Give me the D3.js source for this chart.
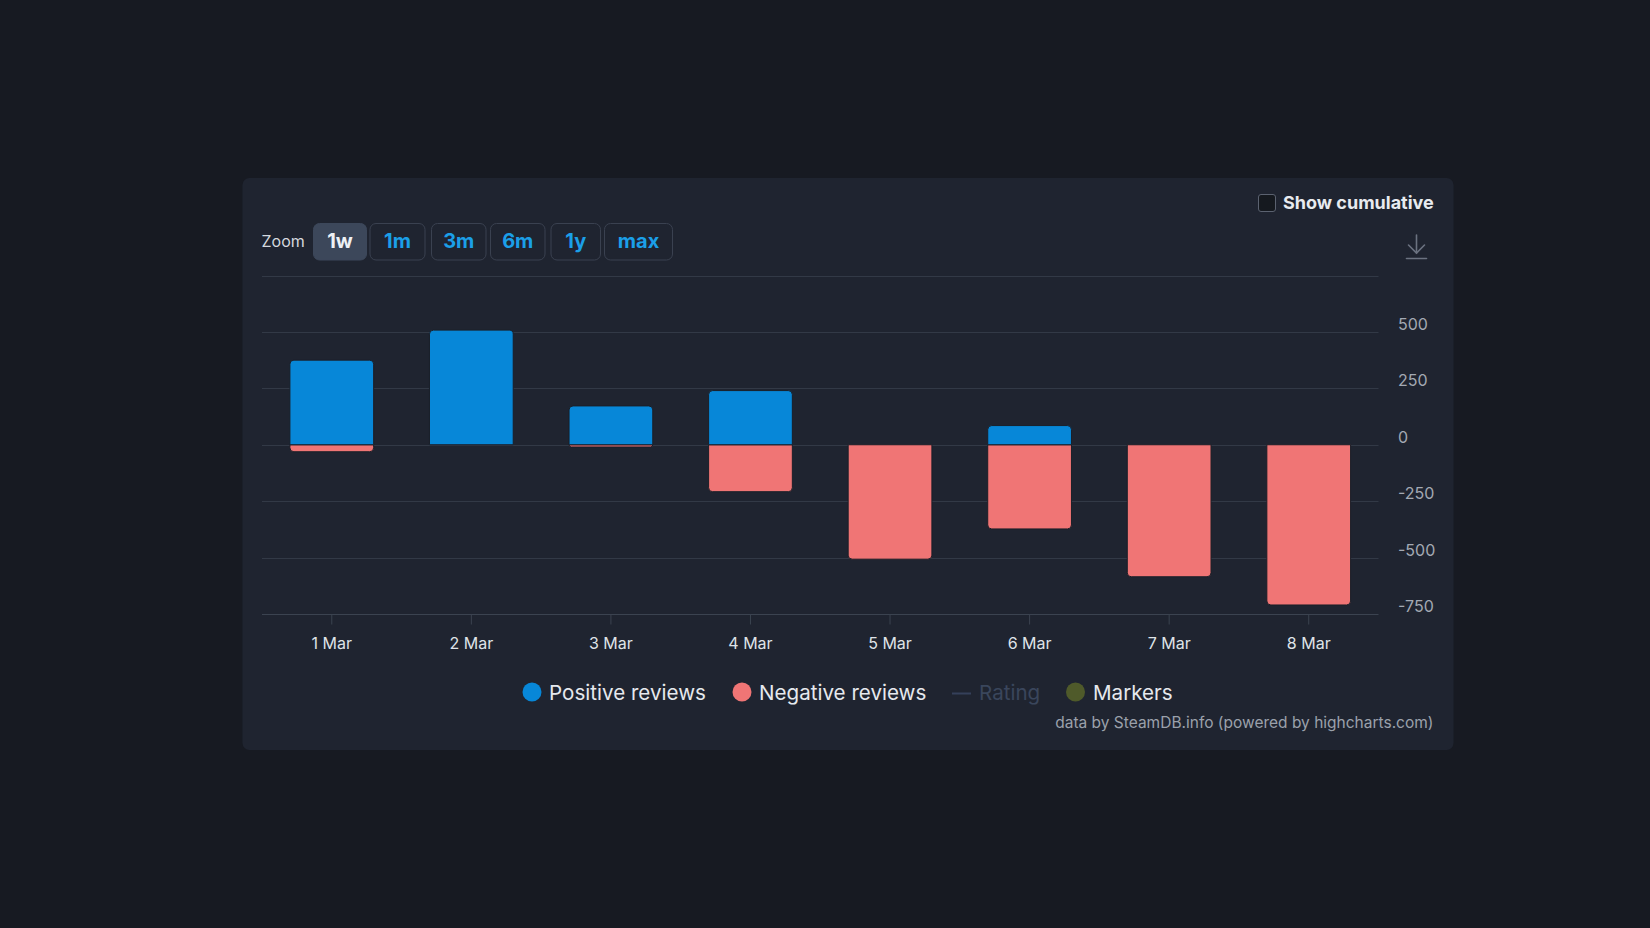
<!DOCTYPE html>
<html>
<head>
<meta charset="utf-8">
<script src="https://cdn.jsdelivr.net/npm/d3@7"></script>
<style>
  html, body { margin: 0; padding: 0; background: #171a22; }
  svg { display: block; font-family: Inter, "Noto Sans", sans-serif; }
</style>
</head>
<body>
<svg id="chart" width="1650" height="928"></svg>
<script>
const categories = ["1 Mar", "2 Mar", "3 Mar", "4 Mar", "5 Mar", "6 Mar", "7 Mar", "8 Mar"];
const positiveReviews = [375, 508, 172, 240, 0, 85, 0, 0];
const negativeReviews = [-31, 0, -10, -208, -507, -373, -585, -710];
const yTicks = [750, 500, 250, 0, -250, -500, -750];
const yTickLabels = ["", "500", "250", "0", "-250", "-500", "-750"];
const zoomButtons = ["1w", "1m", "3m", "6m", "1y", "max"];
const legendItems = ["Positive reviews", "Negative reviews", "Rating", "Markers"];

const svg = d3.select("#chart");
const W = 1650, H = 928;

// Panel
svg.append("rect").attr("x", 0).attr("y", 0).attr("width", W).attr("height", H).attr("fill", "#171a22");
svg.append("rect").attr("x", 242.5).attr("y", 178).attr("width", 1211).attr("height", 572)
  .attr("rx", 7).attr("fill", "#1f2430");

// Plot area
const plot = { left: 262, right: 1378.5, top: 275.5, bottom: 614 };
const x = d3.scaleBand().domain(categories).range([plot.left, plot.right]).paddingInner(0.4).paddingOuter(0.2);
const y = d3.scaleLinear().domain([-750, 750]).range([plot.bottom, plot.top]);

// Gridlines
svg.append("g").selectAll("line").data(yTicks).join("line")
  .attr("x1", plot.left).attr("x2", plot.right)
  .attr("y1", d => Math.round(y(d)) + 0.5).attr("y2", d => Math.round(y(d)) + 0.5)
  .attr("stroke", d => d === -750 ? "#3b4350" : "#323946").attr("stroke-width", 1);

// Y labels (right side)
svg.append("g").selectAll("text").data(yTicks).join("text")
  .attr("x", 1398).attr("y", d => y(d) - 2)
  .attr("fill", "#a3a9b3").attr("font-size", 16)
  .text((d, i) => yTickLabels[i]);

// X axis ticks and labels
const xAxis = d3.axisBottom(x).tickSize(10).tickSizeOuter(0);
const gx = svg.append("g").attr("transform", `translate(0,${Math.round(plot.bottom) + 0.5})`).call(xAxis);
gx.select(".domain").remove();
gx.selectAll(".tick line").attr("stroke", "#3b4350");
gx.selectAll(".tick text").attr("fill", "#dfe3e8").attr("font-size", 16)
  .attr("font-family", "Inter, sans-serif").attr("dy", null).attr("y", 34);

// Bars
function barPath(x0, w, y0, y1, r) {
  const dir = y1 < y0 ? 1 : -1;
  const h = Math.abs(y0 - y1);
  r = Math.min(r, h, w / 2);
  if (dir === 1) {
    return `M${x0},${y0}V${y1 + r}Q${x0},${y1} ${x0 + r},${y1}H${x0 + w - r}Q${x0 + w},${y1} ${x0 + w},${y1 + r}V${y0}Z`;
  } else {
    return `M${x0},${y0}V${y1 - r}Q${x0},${y1} ${x0 + r},${y1}H${x0 + w - r}Q${x0 + w},${y1} ${x0 + w},${y1 - r}V${y0}Z`;
  }
}
const gb = svg.append("g");
categories.forEach((c, i) => {
  const x0 = x(c), w = x.bandwidth();
  if (negativeReviews[i] !== 0) {
    gb.append("path").attr("d", barPath(x0, w, y(0), y(negativeReviews[i]), 4))
      .attr("fill", "#f07575").attr("stroke", "#1b1f28").attr("stroke-width", 1);
  }
  if (positiveReviews[i] !== 0) {
    gb.append("path").attr("d", barPath(x0, w, y(0), y(positiveReviews[i]), 4))
      .attr("fill", "#0787d8").attr("stroke", "#1b1f28").attr("stroke-width", 1);
  }
});

// Zoom buttons
svg.append("text").attr("x", 261.5).attr("y", 246.5).attr("fill", "#d4d8de").attr("font-size", 16).text("Zoom");
const btnX = [313.5, 370, 431.5, 490.5, 551, 604.5];
const btnW = [53, 55, 54.5, 54.5, 49.5, 68];
const gz = svg.append("g");
zoomButtons.forEach((b, i) => {
  const active = i === 0;
  gz.append("rect").attr("x", btnX[i]).attr("y", 223.5).attr("width", btnW[i]).attr("height", 36.5).attr("rx", 6)
    .attr("fill", active ? "#3c475a" : "#1f2430").attr("stroke", active ? "#3c475a" : "#3a4150").attr("stroke-width", 1);
  gz.append("text").attr("x", btnX[i] + btnW[i] / 2).attr("y", 248).attr("text-anchor", "middle")
    .attr("font-size", 20).attr("font-weight", 700).attr("fill", active ? "#eef1f5" : "#1b9fe8").text(b);
});

// Show cumulative checkbox
svg.append("rect").attr("x", 1258.5).attr("y", 194.5).attr("width", 17).attr("height", 17).attr("rx", 2.5)
  .attr("fill", "#15191f").attr("stroke", "#5b6270").attr("stroke-width", 1);
svg.append("text").attr("x", 1283).attr("y", 209).attr("font-size", 18).attr("font-weight", 700)
  .attr("fill", "#e8ebef").text("Show cumulative");

// Download icon
const di = svg.append("g").attr("stroke", "#6b7280").attr("stroke-width", 1.6).attr("fill", "none").attr("stroke-linecap", "round");
di.append("line").attr("x1", 1416.5).attr("y1", 235).attr("x2", 1416.5).attr("y2", 253);
di.append("polyline").attr("points", "1408.5,245 1416.5,253 1424.5,245");
di.append("line").attr("x1", 1406.5).attr("y1", 258.5).attr("x2", 1426.5).attr("y2", 258.5);

// Legend
const lg = svg.append("g").attr("font-size", 20.6);
lg.append("circle").attr("cx", 532).attr("cy", 692).attr("r", 9.5).attr("fill", "#0787d8");
lg.append("text").attr("x", 549).attr("y", 699.5).attr("fill", "#e6e9ee").text(legendItems[0]);
lg.append("circle").attr("cx", 742).attr("cy", 692).attr("r", 9.5).attr("fill", "#f07575");
lg.append("text").attr("x", 759).attr("y", 699.5).attr("fill", "#e6e9ee").text(legendItems[1]);
lg.append("line").attr("x1", 952).attr("x2", 971).attr("y1", 693.5).attr("y2", 693.5).attr("stroke", "#35405a").attr("stroke-width", 2);
lg.append("text").attr("x", 979).attr("y", 699.5).attr("fill", "#3a465c").text(legendItems[2]);
lg.append("circle").attr("cx", 1075.5).attr("cy", 692).attr("r", 9.5).attr("fill", "#4f5a2a");
lg.append("text").attr("x", 1093).attr("y", 699.5).attr("fill", "#e6e9ee").text(legendItems[3]);

// Credits
svg.append("text").attr("x", 1433.5).attr("y", 728).attr("text-anchor", "end").attr("font-size", 15.5)
  .attr("fill", "#9ba1ab").text("data by SteamDB.info (powered by highcharts.com)");
</script>
</body>
</html>
